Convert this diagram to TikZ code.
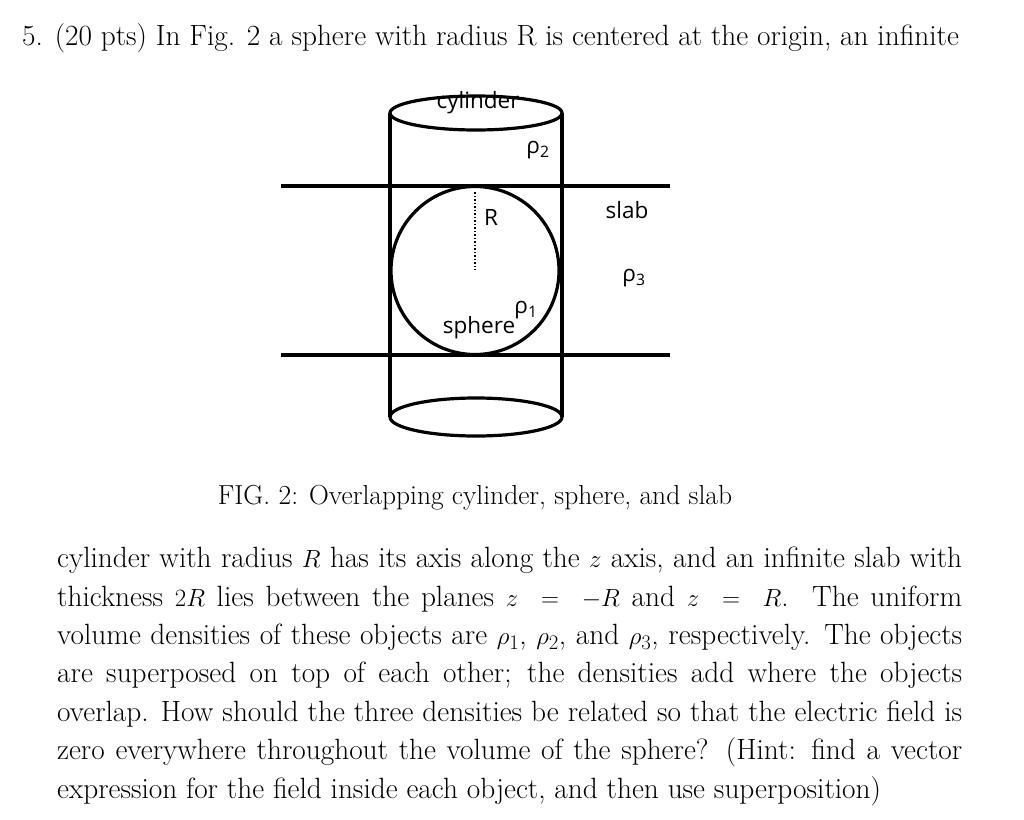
\documentclass[tikz,border=0pt]{standalone}
\usepackage{fontspec}
\newfontfamily\figfont{Open Sans}
\begin{document}
\begin{tikzpicture}[x=1pt,y=-1pt,
  thick line/.style={line width=3.2pt},
  lab/.style={font=\figfont\fontsize{22.5}{26}\selectfont, inner sep=0pt},
  body/.style={font=\fontsize{29.3}{38.4}\selectfont, inner sep=0pt}]
\useasboundingbox (0,0) rectangle (1024,819);
% slab
\draw[thick line] (281,186) -- (670,186);
\draw[thick line] (281,355) -- (670,355);
% cylinder
\draw[thick line] (390,113) -- (390,417);
\draw[thick line] (562,113) -- (562,417);
\draw[thick line] (476,113) ellipse [x radius=86, y radius=17];
\draw[thick line] (476,417) ellipse [x radius=86, y radius=19];
% sphere
\draw[thick line] (475,270.5) circle [radius=84];
\draw[line width=1.5pt, dotted] (475,192) -- (475,270);
% labels
\node[lab] (cyl) at (478,103) {cylinder};
\node[lab] (r2) at (538,150) {ρ\textsubscript{2}};
\node[lab] (rr) at (491,217) {R};
\node[lab] (slab) at (627,210) {slab};
\node[lab] (r3) at (634,278) {ρ\textsubscript{3}};
\node[lab] (r1) at (526,310) {ρ\textsubscript{1}};
\node[lab] (sph) at (479,328) {sphere};
% text
\node[body, anchor=west] (q) at (22,38) {5. (20 pts) In Fig. 2 a sphere with radius R is centered at the origin, an infinite};
\node[body, font=\fontsize{27.5}{33}\selectfont] (cap) at (475,498) {FIG. 2: Overlapping cylinder, sphere, and slab};
\node[body, anchor=north west, text width=905pt, align=justify] (par) at (57,547) {%
cylinder with radius $R$ has its axis along the $z$ axis, and an infinite slab with\linebreak
thickness $2R$ lies between the planes $z\;=\;-R$ and $z\;=\;R$.\ \ The uniform\linebreak
volume densities of these objects are $\rho_1$, $\rho_2$, and $\rho_3$, respectively. The objects\linebreak
are superposed on top of each other; the densities add where the objects\linebreak
overlap. How should the three densities be related so that the electric field is\linebreak
zero everywhere throughout the volume of the sphere? (Hint: find a vector\linebreak
expression for the field inside each object, and then use superposition)};
\end{tikzpicture}
\end{document}
